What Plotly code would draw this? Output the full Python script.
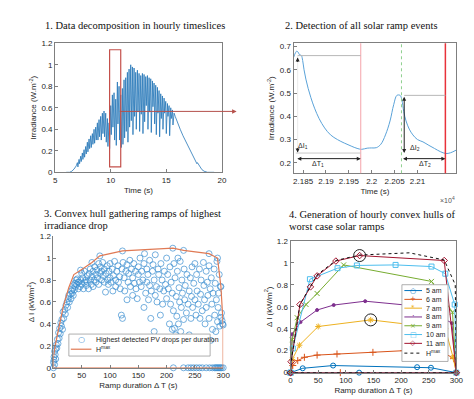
import plotly.graph_objects as go

W, H = 474, 399

# ---------------- Panel 1: irradiance time series ----------------
irr_time = [6.0, 6.3, 6.5, 6.7, 6.9, 7.0, 7.05, 7.15, 7.2, 7.3, 7.35, 7.45, 7.5, 7.6, 7.65, 7.75, 7.8, 7.9,
            7.95, 8.05, 8.1, 8.2, 8.25, 8.35, 8.4, 8.5, 8.55, 8.65, 8.7, 8.8, 8.85, 8.95, 9.0, 9.1, 9.15,
            9.25, 9.3, 9.4, 9.45, 9.55, 9.6, 9.7, 9.75, 9.85, 9.9, 10.0, 10.05, 10.15, 10.2, 10.3, 10.35,
            10.45, 10.5, 10.6, 10.65, 10.75, 10.8, 10.9, 10.95, 11.05, 11.1, 11.2, 11.25, 11.35, 11.4,
            11.5, 11.55, 11.65, 11.7, 11.8, 11.85, 11.95, 12.0, 12.1, 12.15, 12.25, 12.3, 12.4, 12.45,
            12.55, 12.6, 12.7, 12.75, 12.85, 12.9, 13.0, 13.05, 13.15, 13.2, 13.3, 13.35, 13.45, 13.5,
            13.6, 13.65, 13.75, 13.8, 13.9, 13.95, 14.05, 14.1, 14.2, 14.25, 14.35, 14.4, 14.5, 14.55,
            14.65, 14.7, 14.8, 14.85, 14.95, 15.0, 15.1, 15.15, 15.25, 15.3, 15.4, 15.45, 15.55, 15.6,
            15.7, 15.8, 16.0, 16.25, 16.5, 16.75, 17.0, 17.25, 17.5, 17.7, 17.75, 17.8, 18.0, 18.2, 18.4,
            18.7, 19.3]
irr_value = [0.0, 0.0, 0.01, 0.03, 0.06, 0.09, 0.05, 0.12, 0.08, 0.15, 0.10, 0.18, 0.12, 0.21, 0.14, 0.24,
             0.17, 0.28, 0.19, 0.31, 0.22, 0.34, 0.23, 0.36, 0.26, 0.40, 0.27, 0.42, 0.30, 0.46, 0.30, 0.49,
             0.33, 0.52, 0.30, 0.55, 0.36, 0.57, 0.33, 0.55, 0.28, 0.50, 0.24, 0.46, 0.22, 0.62, 0.35, 0.72,
             0.42, 0.74, 0.30, 0.68, 0.25, 0.84, 0.45, 0.80, 0.30, 0.72, 0.23, 0.78, 0.26, 0.86, 0.32, 0.88,
             0.38, 0.93, 0.28, 0.96, 0.42, 1.00, 0.48, 0.98, 0.35, 0.97, 0.52, 0.93, 0.40, 0.95, 0.56, 0.92,
             0.38, 0.90, 0.54, 0.92, 0.36, 0.91, 0.47, 0.89, 0.62, 0.90, 0.40, 0.88, 0.56, 0.87, 0.37, 0.85,
             0.61, 0.83, 0.45, 0.81, 0.35, 0.79, 0.55, 0.76, 0.33, 0.73, 0.50, 0.71, 0.40, 0.69, 0.55, 0.66,
             0.36, 0.64, 0.52, 0.62, 0.34, 0.60, 0.50, 0.58, 0.44, 0.55, 0.52, 0.46, 0.40, 0.34, 0.29, 0.24,
             0.19, 0.14, 0.10, 0.08, 0.09, 0.05, 0.025, 0.01, 0.0, 0.0]
slice_start, slice_end = 9.9, 10.9
slice_low, slice_high = 0.05, 1.14

# ---------------- Panel 2: ramp detection ----------------
ramp_time = [21829, 21833, 21836, 21839, 21842, 21846, 21849, 21852, 21856, 21861, 21867, 21875, 21885,
             21897, 21910, 21925, 21940, 21955, 21968, 21978, 21990, 22000, 22010, 22020, 22030, 22040,
             22048, 22055, 22062, 22066, 22070, 22075, 22082, 22090, 22100, 22112, 22125, 22137, 22150,
             22162, 22172, 22185]
ramp_value = [0.652, 0.672, 0.680, 0.676, 0.665, 0.662, 0.640, 0.600, 0.560, 0.520, 0.480, 0.435, 0.390,
              0.350, 0.320, 0.300, 0.285, 0.272, 0.262, 0.258, 0.263, 0.264, 0.265, 0.280, 0.320, 0.380,
              0.450, 0.490, 0.490, 0.470, 0.420, 0.380, 0.345, 0.320, 0.300, 0.290, 0.275, 0.262, 0.248,
              0.240, 0.243, 0.255]
ramp1_start, ramp1_end, ramp1_top, ramp1_bottom = 21838, 21976, 0.661, 0.242
ramp2_start, ramp2_end, ramp2_top, ramp2_bottom = 22065, 22161, 0.490, 0.242
dt_level = 0.218
ramp_ticks = [21850, 21900, 21950, 22000, 22050, 22100]
ramp_ticktext = ['2.185', '2.19', '2.195', '2.2', '2.205', '2.21']

# ---------------- Panel 3: highest drops per duration ----------------
drop_duration = [0, 0, 1, 1, 2, 2, 3, 4, 4, 5, 6, 7, 8, 9, 10, 11, 12, 13, 14, 15, 16, 17, 18, 20, 21, 22,
                 24, 25, 26, 27, 28, 30, 31, 32, 33, 34, 35, 36, 37, 38, 39, 40, 41, 42, 43, 44,
                 45, 47, 48, 50, 50, 52, 53, 55, 55, 57, 58, 60, 60, 62, 63, 65, 65, 67, 68, 70, 70, 72,
                 73, 75, 75, 77, 78, 80, 80, 82, 83, 85, 85, 87, 88, 90, 90, 92, 93, 95, 96, 97, 98, 100,
                 100, 48, 68, 82, 122,
                 102, 104, 105, 106, 108, 110, 110, 112, 114, 115, 117, 118, 120, 121, 122, 123, 125, 126,
                 128, 130, 130, 132, 133, 135, 136, 138, 140, 140, 142, 143, 145, 146, 148, 150, 150, 152,
                 153, 155, 156, 158, 160, 160, 161, 163, 165, 165, 167, 168, 170, 170, 172, 173, 175, 176,
                 178, 178, 180, 180, 182, 183, 185, 186, 188, 189, 190, 192, 193, 195, 196, 198, 200, 200,
                 202, 203, 205, 206, 207, 208, 210, 210, 211, 212, 213, 214, 215, 216, 217, 218, 219, 220,
                 221, 222, 223, 224, 225, 226, 227, 228, 230, 230, 231, 232, 233, 235, 236, 238, 240, 240,
                 242, 243, 244, 245, 246, 248, 250, 250, 252, 253, 254, 256, 258, 259, 260, 261, 263, 265,
                 266, 267, 268, 270, 270, 272, 273, 275, 275, 275, 277, 278, 279, 280, 281, 282, 284, 285,
                 286, 287, 288, 289, 290, 290, 291, 292, 293, 294, 295, 296, 296, 297, 298, 299, 300,
                 212, 230, 238, 243, 248, 253, 258, 263, 270, 276, 281, 285, 287, 289, 291, 293, 295, 297,
                 300]
drop_value = [0.0, 0.05, 0.10, 0.07, 0.03, 0.15, 0.12, 0.17, 0.08, 0.21, 0.18, 0.26, 0.22, 0.32, 0.27, 0.36,
              0.31, 0.41, 0.38, 0.44, 0.35, 0.51, 0.45, 0.53, 0.49, 0.57, 0.60, 0.55, 0.63, 0.66, 0.60, 0.67,
              0.63, 0.70, 0.68, 0.72, 0.66, 0.75, 0.71, 0.77, 0.74, 0.80, 0.76, 0.81, 0.78, 0.72,
              0.78, 0.74, 0.80, 0.76, 0.86, 0.82, 0.72, 0.78, 0.88, 0.80, 0.75, 0.84, 0.78, 0.72, 0.86,
              0.80, 0.90, 0.76, 0.83, 0.88, 0.74, 0.80, 0.92, 0.85, 0.78, 0.89, 0.82, 0.95, 0.76, 0.86,
              0.92, 0.80, 0.88, 0.96, 0.84, 0.90, 0.78, 0.69, 0.86, 0.93, 0.80, 0.76, 0.88, 0.82,
              0.95, 0.89, 0.96, 1.02, 1.065,
              0.78, 0.90, 0.70, 0.84, 0.97, 0.80, 0.74, 0.88, 0.93, 0.78, 0.83, 0.72, 0.48, 0.90, 0.45,
              0.96, 0.82, 0.70, 0.88, 0.62, 0.94, 0.78, 0.86, 0.98, 0.74, 0.90, 0.82, 0.66, 0.95, 0.77,
              0.88, 0.72, 0.63, 0.85, 0.92, 0.78, 1.00, 0.74, 0.88, 0.80, 0.95, 0.55, 1.04, 0.68, 0.78,
              0.90, 0.85, 0.62, 0.75, 0.98, 0.45, 0.70, 0.88, 0.94, 0.80, 0.33, 0.66, 1.03, 0.74, 0.60,
              0.90, 0.85, 0.72, 0.48, 0.95, 0.80, 0.58, 0.70, 0.88, 0.76, 1.00, 0.63,
              0.85, 0.72, 0.40, 0.92, 0.58, 0.78, 0.35, 0.68, 1.09, 0.52, 0.95, 0.36, 0.82, 0.30, 0.65,
              0.47, 0.88, 1.00, 0.40, 0.73, 0.60, 0.97, 0.33, 0.55, 0.80, 0.68, 0.44, 1.07, 0.90, 0.62,
              0.75, 0.50, 0.85, 0.58, 0.70, 0.30, 0.82, 0.45, 0.65, 0.92, 0.55, 0.77, 0.62, 0.95, 0.48,
              0.85, 0.70, 0.58, 0.90, 0.45, 0.67, 0.80, 0.52, 0.96, 0.75, 0.62, 0.40, 0.88, 0.55, 0.78,
              0.66, 0.93, 0.45, 1.04, 0.72, 0.25, 0.82, 0.58, 0.35, 0.68, 0.90, 0.48, 0.77, 0.33, 0.62,
              0.97, 0.42, 1.00, 0.55, 0.68, 0.85, 0.38, 0.74, 0.46, 0.74, 0.50, 0.43, 0.40, 0.39,
              0, 0, 0, 0, 0, 0, 0, 0, 0, 0, 0, 0, 0, 0, 0, 0, 0, 0, 0]
hull_duration = [0, 0, 3, 10, 17, 27, 36, 48, 68, 82, 122, 211, 230, 275, 290, 296, 300, 300, 0]
hull_value = [0, 0.10, 0.20, 0.36, 0.55, 0.73, 0.85, 0.89, 0.96, 1.02, 1.065, 1.09, 1.07, 1.04, 1.00, 0.74,
              0.39, 0, 0]

# ---------------- Panel 4: hourly convex hulls ----------------
h5_x = [0, 22, 77, 229, 254, 300, 124, 0]
h5_y = [0, 0.04, 0.065, 0.05, 0.045, 0, 0, 0]
h6_x = [0, 4, 13, 25, 48, 84, 149, 205, 270, 295, 300, 90, 0]
h6_y = [0, 0.065, 0.11, 0.14, 0.16, 0.17, 0.185, 0.20, 0.20, 0.13, 0, 0, 0]
h7_x = [0, 3, 16, 50, 145, 280, 294, 300, 0]
h7_y = [0, 0.12, 0.25, 0.42, 0.48, 0.40, 0.14, 0, 0]
h8_x = [0, 3, 18, 48, 78, 135, 240, 292, 300, 0]
h8_y = [0, 0.35, 0.46, 0.57, 0.615, 0.65, 0.60, 0.45, 0, 0]
h9_x = [0, 3, 12, 28, 48, 96, 255, 293, 300, 0]
h9_y = [0, 0.30, 0.50, 0.62, 0.72, 0.98, 0.83, 0.55, 0, 0]
h10_x = [0, 4, 35, 85, 120, 190, 255, 280, 297, 300, 0]
h10_y = [0, 0.22, 0.85, 0.95, 0.975, 0.98, 0.965, 0.90, 0.62, 0, 0]
h11_x = [0, 1, 17, 36, 48, 82, 125, 278, 300, 0]
h11_y = [0, 0.10, 0.62, 0.78, 0.88, 1.015, 1.065, 1.02, 0, 0]
hmax_x = [0, 1, 17, 36, 48, 82, 125, 215, 278, 298, 300, 0]
hmax_y = [0, 0.10, 0.62, 0.79, 0.89, 1.02, 1.07, 1.09, 1.025, 0.80, 0, 0]
hour_labels = ['5 am', '6 am', '7 am', '8 am', '9 am', '10 am', '11 am']
hour_colors = ['#0072BD', '#D95319', '#EDB120', '#7E2F8E', '#77AC30', '#4DBEEE', '#A2142F']
hour_symbols = ['circle-open', 'cross-thin-open', 'asterisk-open', 'circle', 'x-thin-open',
                'square-open', 'diamond-open']
hour_glyphs = ['○', '+', '*', '·', '×', '□', '◇']
circled_points = [(125, 1.065), (145, 0.48)]

# ---------------- figure ----------------
SANS = 'Liberation Sans'
SERIF = 'Liberation Serif'
AX = '#7f7f7f'
TXT = '#262626'


def px(x):
    return x / W


def py(y):
    return 1 - y / H


fig = go.Figure()

fig.add_trace(go.Scatter(x=irr_time, y=irr_value, mode='lines', xaxis='x', yaxis='y',
                         line=dict(color='#2476b8', width=0.8), showlegend=False))
fig.add_trace(go.Scatter(x=ramp_time, y=ramp_value, mode='lines', xaxis='x2', yaxis='y2',
                         line=dict(color='#5aa2d8', width=1), line_shape='spline', showlegend=False))
fig.add_trace(go.Scatter(x=drop_duration, y=drop_value, mode='markers', xaxis='x3', yaxis='y3',
                         marker=dict(symbol='circle-open', size=6, color='#3b8ed0',
                                     line=dict(width=0.7, color='#3b8ed0')),
                         cliponaxis=False, showlegend=False))
fig.add_trace(go.Scatter(x=hull_duration, y=hull_value, mode='lines', xaxis='x3', yaxis='y3',
                         line=dict(color='#e07a55', width=1.2), cliponaxis=False, showlegend=False))

hx = [h5_x, h6_x, h7_x, h8_x, h9_x, h10_x, h11_x]
hy = [h5_y, h6_y, h7_y, h8_y, h9_y, h10_y, h11_y]
for i in range(7):
    fig.add_trace(go.Scatter(x=hx[i], y=hy[i], mode='lines+markers', xaxis='x4', yaxis='y4',
                             line=dict(color=hour_colors[i], width=1),
                             marker=dict(symbol=hour_symbols[i], size=5 if i != 3 else 3,
                                         color=hour_colors[i], line=dict(width=1, color=hour_colors[i])),
                             cliponaxis=False, showlegend=False))
fig.add_trace(go.Scatter(x=hmax_x, y=hmax_y, mode='lines', xaxis='x4', yaxis='y4',
                         line=dict(color='#111111', width=1, dash='dot'), cliponaxis=False,
                         showlegend=False))

axis_common = dict(showline=True, linecolor=AX, linewidth=1, ticks='inside', ticklen=3, tickcolor=AX,
                   showgrid=False, zeroline=False, tickfont=dict(family=SANS, size=8, color=TXT),
                   title_font=dict(family=SANS, size=8, color=TXT))

fig.update_layout(
    width=W, height=H, margin=dict(l=0, r=0, t=0, b=0),
    paper_bgcolor='white', plot_bgcolor='white', showlegend=False,
    xaxis=dict(domain=[px(46), px(216)], range=[5, 20], tickvals=[5, 10, 15, 20], mirror=True,
               anchor='y', title=dict(text='Time (s)', standoff=3), **axis_common),
    yaxis=dict(domain=[py(164), py(32)], range=[0, 1.2], dtick=0.2, mirror=True, anchor='x',
               title=dict(text='Irradiance (W.m<sup>-2</sup>)', standoff=3), **axis_common),
    xaxis2=dict(domain=[px(289), px(455)], range=[21829, 22185], tickvals=ramp_ticks,
                ticktext=ramp_ticktext, mirror=True, anchor='y2',
                title=dict(text='Time (s)', standoff=3), **axis_common),
    yaxis2=dict(domain=[py(165), py(32)], range=[0.155, 0.714], tickvals=[0.2, 0.3, 0.4, 0.5, 0.6, 0.7],
                mirror=True, anchor='x2',
                title=dict(text='Irradiance (W.m<sup>-2</sup>)', standoff=3), **axis_common),
    xaxis3=dict(domain=[px(44.3), px(217.3)], range=[0, 300], dtick=50, anchor='y3',
                title=dict(text='Ramp duration Δ T (s)', standoff=3), **axis_common),
    yaxis3=dict(domain=[py(364), py(229.3)], range=[0, 1.2], dtick=0.2, anchor='x3',
                title=dict(text='Δ I (kW/m<sup>2</sup>)', standoff=3), **axis_common),
    xaxis4=dict(domain=[px(286), px(455)], range=[0, 300], dtick=50, mirror=True, anchor='y4',
                title=dict(text='Ramp duration Δ T (s)', standoff=3), **axis_common),
    yaxis4=dict(domain=[py(369), py(234)], range=[0, 1.2], dtick=0.2, mirror=True, anchor='x4',
                title=dict(text='Δ I (kW/m<sup>2</sup>)', standoff=3), **axis_common),
)

shapes = []
annotations = []


def label(text, x, y, size, color=TXT, family=SANS, xanchor='center'):
    return dict(text=text, x=px(x), y=py(y), xref='paper', yref='paper', showarrow=False,
                xanchor=xanchor, yanchor='middle', font=dict(family=family, size=size, color=color))


# panel titles
for text, x, y, anchor in [
    ('1. Data decomposition in hourly timeslices', 127, 14, 'center'),
    ('2. Detection of all solar ramp events', 358, 14, 'center'),
    ('3. Convex hull gathering ramps of highest', 33, 206, 'left'),
    ('irradiance drop', 33, 218, 'left'),
    ('4. Generation of hourly convex hulls of', 282, 207, 'left'),
    ('worst case solar ramps', 282, 219, 'left'),
]:
    annotations.append(label(text, x, y, 10.5, '#111111', SERIF, anchor))

# panel 1: time slice rectangle and arrow to panel 2
shapes.append(dict(type='rect', xref='x', yref='y', x0=slice_start, x1=slice_end, y0=slice_low,
                   y1=slice_high, line=dict(color='#c4504b', width=1.2)))
annotations.append(dict(x=px(231), y=py(101.7), xref='paper', yref='paper', axref='pixel', ayref='pixel',
                        ax=-(231 - 112.7), ay=0, text='', showarrow=True, arrowhead=2, arrowsize=0.9,
                        arrowwidth=1, arrowcolor='#b5504b', standoff=0, startstandoff=0))

# panel 2: ramp markers
shapes += [
    dict(type='line', xref='x2', yref='y2 domain', x0=ramp1_end, x1=ramp1_end, y0=0, y1=1,
         line=dict(color='#f4a3aa', width=1)),
    dict(type='line', xref='x2', yref='y2 domain', x0=ramp2_start, x1=ramp2_start, y0=0, y1=1,
         line=dict(color='#8fd08f', width=1, dash='dot')),
    dict(type='line', xref='x2', yref='y2 domain', x0=ramp2_end, x1=ramp2_end, y0=0, y1=1,
         line=dict(color='#e8323a', width=1.5)),
    dict(type='line', xref='x2', yref='y2', x0=ramp1_start, x1=ramp1_end, y0=ramp1_top, y1=ramp1_top,
         line=dict(color='#b8b8b8', width=1)),
    dict(type='line', xref='x2', yref='y2', x0=ramp1_start - 4, x1=ramp1_end, y0=ramp1_bottom,
         y1=ramp1_bottom, line=dict(color='#c8c8c8', width=1)),
    dict(type='line', xref='x2', yref='y2', x0=ramp2_start + 6, x1=ramp2_end, y0=ramp2_top, y1=ramp2_top,
         line=dict(color='#b8b8b8', width=1)),
    dict(type='line', xref='x2', yref='y2', x0=ramp1_start, x1=ramp1_start, y0=ramp1_bottom,
         y1=ramp1_top, line=dict(color='#e6e6e6', width=0.8)),
]


def arrow2(x0, y0, x1, y1):
    return dict(x=x1, y=y1, ax=x0, ay=y0, xref='x2', yref='y2', axref='x2', ayref='y2', text='',
                showarrow=True, arrowhead=2, startarrowhead=2, arrowside='end+start', arrowsize=0.8,
                startarrowsize=0.8, arrowwidth=1, arrowcolor='#222222', standoff=0, startstandoff=0)


annotations += [
    arrow2(ramp1_start - 4, dt_level, ramp1_end, dt_level),
    arrow2(ramp2_start, dt_level, ramp2_end, dt_level),
    arrow2(ramp2_start + 6, ramp2_top, ramp2_start + 6, ramp2_bottom),
    dict(x=ramp1_start, y=ramp1_top - 0.008, ax=0, ay=6, xref='x2', yref='y2', text='', showarrow=True,
         arrowhead=2, arrowsize=0.8, arrowwidth=1, arrowcolor='#222222', standoff=0),
    dict(x=ramp1_start, y=ramp1_bottom + 0.002, ax=0, ay=-6, xref='x2', yref='y2', text='',
         showarrow=True, arrowhead=2, arrowsize=0.8, arrowwidth=1, arrowcolor='#222222', standoff=0),
]
for text, x, y in [('ΔI<sub>1</sub>', ramp1_start + 12, 0.272), ('ΔT<sub>1</sub>', ramp1_start + 45, 0.196),
                   ('ΔI<sub>2</sub>', ramp2_start + 30, 0.262), ('ΔT<sub>2</sub>', ramp2_start + 52, 0.196)]:
    annotations.append(dict(text=text, x=x, y=y, xref='x2', yref='y2', showarrow=False,
                            xanchor='center', yanchor='middle',
                            font=dict(family=SANS, size=7, color=TXT)))
annotations.append(label('×10<sup>4</sup>', 446, 192, 7, '#555555'))

# panel 3 legend (drawn manually)
shapes.append(dict(type='rect', xref='paper', yref='paper', x0=px(60), x1=px(204), y0=py(352),
                   y1=py(329.5), line=dict(color='#9a9a9a', width=0.8), fillcolor='white', layer='above'))
shapes.append(dict(type='line', xref='paper', yref='paper', x0=px(62), x1=px(83), y0=py(345),
                   y1=py(345), line=dict(color='#e07a55', width=1.2), layer='above'))
annotations += [
    label('○', 73, 335.5, 8, '#3b8ed0', 'DejaVu Sans'),
    label('Highest detected PV drops per duration', 86, 335.5, 7, TXT, SANS, 'left'),
    label('H<sup>max</sup>', 86, 345, 7, TXT, SANS, 'left'),
]

# panel 4 circles
for cx, cy in circled_points:
    shapes.append(dict(type='circle', xref='x4', yref='y4', xsizemode='pixel', ysizemode='pixel',
                       xanchor=cx, yanchor=cy, x0=-6, x1=6, y0=-6, y1=6,
                       line=dict(color='#222222', width=1)))

# panel 4 legend (drawn manually)
shapes.append(dict(type='rect', xref='paper', yref='paper', x0=px(399.5), x1=px(446.5), y0=py(357.5),
                   y1=py(279), line=dict(color='#9a9a9a', width=0.8), fillcolor='white', layer='above'))
rows = hour_labels + ['H<sup>max</sup>']
for i, lab in enumerate(rows):
    yy = 285 + 9 * i + (1 if i == 7 else 0)
    if i < 7:
        col = hour_colors[i]
        shapes.append(dict(type='line', xref='paper', yref='paper', x0=px(402), x1=px(420), y0=py(yy),
                           y1=py(yy), line=dict(color=col, width=1), layer='above'))
        annotations.append(label(hour_glyphs[i], 411, yy, 7 if i != 3 else 8, col, 'DejaVu Sans'))
    else:
        shapes.append(dict(type='line', xref='paper', yref='paper', x0=px(402), x1=px(420), y0=py(yy),
                           y1=py(yy), line=dict(color='#111111', width=1, dash='dot'), layer='above'))
    annotations.append(label(lab, 422, yy, 7, TXT, SANS, 'left'))

fig.update_layout(shapes=shapes, annotations=annotations)
fig.write_html('out.html')
